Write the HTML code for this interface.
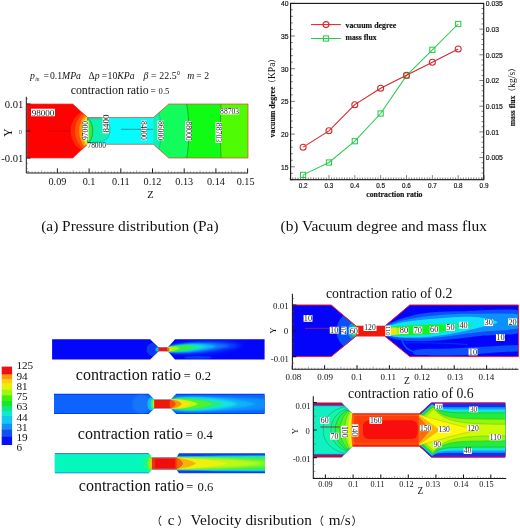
<!DOCTYPE html>
<html><head><meta charset="utf-8"><title>Figure</title>
<style>
html,body{margin:0;padding:0;background:#fff;}
body{width:520px;height:530px;overflow:hidden;}
svg{display:block;}
</style></head><body>
<svg width="520" height="530" viewBox="0 0 520 530">
<defs>
<filter id="b1" x="-20%" y="-20%" width="140%" height="140%"><feGaussianBlur stdDeviation="0.6"/></filter>
<filter id="b2" x="-30%" y="-30%" width="160%" height="160%"><feGaussianBlur stdDeviation="1.2"/></filter>
<filter id="b3" x="-30%" y="-50%" width="160%" height="200%"><feGaussianBlur stdDeviation="2"/></filter>
<filter id="b4" x="-30%" y="-60%" width="160%" height="220%"><feGaussianBlur stdDeviation="3"/></filter>
<filter id="soft" x="-5%" y="-5%" width="110%" height="110%"><feGaussianBlur stdDeviation="0.35"/></filter>
</defs>
<rect width="520" height="530" fill="#fff"/>
<g id="panelA">
<text x="30" y="78.8" font-size="9.7" font-family="Liberation Serif, serif" fill="#111" font-style="italic">p</text>
<text x="35.2" y="80.6" font-size="5.4" font-family="Liberation Serif, serif" font-style="italic" fill="#111">in</text>
<text x="43.8" y="78.8" font-size="9.3" font-family="Liberation Serif, serif" fill="#111" >=</text>
<text x="50" y="78.8" font-size="9.7" font-family="Liberation Serif, serif" fill="#111" >0.1<tspan font-style="italic">MPa</tspan></text>
<text x="88.6" y="78.8" font-size="9.7" font-family="Liberation Serif, serif" fill="#111" >Δ<tspan font-style="italic">p</tspan></text>
<text x="101.8" y="78.8" font-size="9.3" font-family="Liberation Serif, serif" fill="#111" >=</text>
<text x="107.6" y="78.8" font-size="9.7" font-family="Liberation Serif, serif" fill="#111" >10<tspan font-style="italic">KPa</tspan></text>
<text x="143.6" y="78.8" font-size="9.7" font-family="Liberation Serif, serif" fill="#111" font-style="italic">β</text>
<text x="151" y="78.8" font-size="9.3" font-family="Liberation Serif, serif" fill="#111" >=</text>
<text x="159.3" y="78.8" font-size="9.9" font-family="Liberation Serif, serif" fill="#111" >22.5°</text>
<text x="187.3" y="78.8" font-size="9.7" font-family="Liberation Serif, serif" fill="#111" font-style="italic">m</text>
<text x="196.2" y="78.8" font-size="9.3" font-family="Liberation Serif, serif" fill="#111" >=</text>
<text x="204.3" y="78.8" font-size="9.7" font-family="Liberation Serif, serif" fill="#111" >2</text>
<text x="70.7" y="94.3" font-size="11.85" font-family="Liberation Serif, serif" fill="#111">contraction ratio</text>
<text x="150.6" y="94.3" font-size="9.3" font-family="Liberation Serif, serif" fill="#111">=</text>
<text x="158.6" y="94.3" font-size="8.6" font-family="Liberation Serif, serif" fill="#111">0.5</text>
<clipPath id="clipA"><path d="M27,104 L72.8,104 L87.5,117.5 L153.3,117.5 L168.8,104 L248,104 L248,158 L168.8,158 L153.3,144.3 L87.5,144.3 L72.8,158 L27,158 Z"/></clipPath>
<g clip-path="url(#clipA)">
<rect x="27" y="100" width="60" height="62" fill="#fe0202"/>
<path d="M89,109 C64.5,114 64.5,148 89,153 Z" fill="#ff2a04"/>
<path d="M89,110.5 C70.5,116 70.5,146 89,151.5 Z" fill="#ff5606"/>
<path d="M89,112.5 C76,118 76,144 89,149.5 Z" fill="#ff9a08"/>
<path d="M89,114.5 C80.4,120 80.4,142 89,147.5 Z" fill="#f6e818"/>
<rect x="87.5" y="112" width="66" height="38" fill="#06fcfc"/>
<path d="M87.5,118.6 L100,118.6 C108,119.2 110,124 110,130 C110,137 106,141.4 99,142 C94,142.4 90,142.4 88,144.3 L87.5,144.3 Z" fill="#10f0b0" stroke="#1aa86a" stroke-width="0.5"/>
<path d="M87.5,118.5 C94.5,122 94.5,140 87.5,143.5 Z" fill="#34ee34" stroke="#158a2a" stroke-width="0.6"/>
<rect x="153.3" y="100" width="10" height="62" fill="#10f0b0"/>
<path d="M153.3,117.5 L156,116 C160,124 160,138 156,146 L153.3,144.3 Z" fill="#10f0b0"/>
<path d="M158.5,100 L158.5,112 C162,122 162,140 158.5,150 L158.5,162 L190,162 L190,100 Z" fill="#12fc5c"/>
<path d="M186,100 C190,120 190,142 186,162 L225,162 L225,100 Z" fill="#10fc14"/>
<path d="M221.2,100 C220.2,120 220.2,142 221.2,162 L250,162 L250,100 Z" fill="#50fc04"/>
<path d="M186,100 C190,120 190,142 186,162" fill="none" stroke="#0c8c1c" stroke-width="0.7"/>
<path d="M221.2,100 C220.2,120 220.2,142 221.2,162" fill="none" stroke="#2a9010" stroke-width="0.7"/>
<path d="M158.5,112 C162,122 162,140 158.5,150" fill="none" stroke="#10a060" stroke-width="0.5"/>
<path d="M48,131 H70" stroke="#c40000" stroke-width="0.6"/>
<path d="M121,129.3 H153" stroke="#1a6a78" stroke-width="0.7"/>
</g>
<path d="M27,104 L72.8,104 L87.5,117.5 L153.3,117.5 L168.8,104 L248,104 L248,158 L168.8,158 L153.3,144.3 L87.5,144.3 L72.8,158 L27,158 Z" fill="none" stroke="#ef3a20" stroke-width="0.7"/>
<g transform="translate(43,112.5) rotate(0)"><rect x="-12.00" y="-3.75" width="24.00" height="7.50" fill="#fff"/><text x="0" y="3.00" font-size="9.1" text-anchor="middle" font-family="Liberation Serif, serif" fill="#222">98000</text></g>
<g transform="translate(85.6,130.5) rotate(-90)"><rect x="-9.75" y="-2.90" width="19.50" height="5.80" fill="#fff"/><text x="0" y="2.51" font-size="7.6" text-anchor="middle" font-family="Liberation Serif, serif" fill="#222">97000</text></g>
<g transform="translate(105.8,123.6) rotate(-90)"><rect x="-9.75" y="-3.20" width="19.50" height="6.40" fill="#fff"/><text x="0" y="2.97" font-size="9" text-anchor="middle" font-family="Liberation Serif, serif" fill="#222">8400</text></g>
<g transform="translate(96.7,145.9) rotate(0)"><rect x="-9.50" y="-2.60" width="19.00" height="5.20" fill="#fff"/><text x="0" y="2.44" font-size="7.4" text-anchor="middle" font-family="Liberation Serif, serif" fill="#222">78000</text></g>
<g transform="translate(143.9,130.4) rotate(90)"><rect x="-9.80" y="-2.80" width="19.60" height="5.60" fill="#fff"/><text x="0" y="2.51" font-size="7.6" text-anchor="middle" font-family="Liberation Serif, serif" fill="#222">84000</text></g>
<g transform="translate(160.6,130.5) rotate(90)"><rect x="-9.80" y="-3.10" width="19.60" height="6.20" fill="#fff"/><text x="0" y="2.51" font-size="7.6" text-anchor="middle" font-family="Liberation Serif, serif" fill="#222">86000</text></g>
<g transform="translate(188.2,131) rotate(90)"><rect x="-10.00" y="-3.10" width="20.00" height="6.20" fill="#fff"/><text x="0" y="2.57" font-size="7.8" text-anchor="middle" font-family="Liberation Serif, serif" fill="#222">88000</text></g>
<g transform="translate(218.6,132.5) rotate(90)"><rect x="-10.30" y="-3.10" width="20.60" height="6.20" fill="#fff"/><text x="0" y="2.57" font-size="7.8" text-anchor="middle" font-family="Liberation Serif, serif" fill="#222">88703</text></g>
<g transform="translate(229.6,111.4) rotate(0)"><rect x="-9.60" y="-3.00" width="19.20" height="6.00" fill="#fff"/><text x="0" y="2.51" font-size="7.6" text-anchor="middle" font-family="Liberation Serif, serif" fill="#222">88703</text></g>
<path d="M26.3,117.5 h2.6 M26.3,144.5 h2.6 M26.3,171.5 h2.6 M26.3,98.6 h1.6 M26.3,109.4 h1.6 M26.3,114.8 h1.6 M26.3,120.2 h1.6 M26.3,125.6 h1.6 M26.3,136.4 h1.6 M26.3,141.8 h1.6 M26.3,147.2 h1.6 M26.3,152.6 h1.6 M26.3,163.4 h1.6 M26.3,168.8 h1.6 M28.87,173 v-1.7 M32.04,173 v-1.7 M35.21,173 v-1.7 M38.38,173 v-1.7 M41.55,173 v-2.6 M44.72,173 v-1.7 M47.89,173 v-1.7 M51.06,173 v-1.7 M54.23,173 v-1.7 M60.57,173 v-1.7 M63.74,173 v-1.7 M66.91,173 v-1.7 M70.08,173 v-1.7 M73.25,173 v-2.6 M76.42,173 v-1.7 M79.59,173 v-1.7 M82.76,173 v-1.7 M85.93,173 v-1.7 M92.27,173 v-1.7 M95.44,173 v-1.7 M98.61,173 v-1.7 M101.78,173 v-1.7 M104.95,173 v-2.6 M108.12,173 v-1.7 M111.29,173 v-1.7 M114.46,173 v-1.7 M117.63,173 v-1.7 M123.97,173 v-1.7 M127.14,173 v-1.7 M130.31,173 v-1.7 M133.48,173 v-1.7 M136.65,173 v-2.6 M139.82,173 v-1.7 M142.99,173 v-1.7 M146.16,173 v-1.7 M149.33,173 v-1.7 M155.67,173 v-1.7 M158.84,173 v-1.7 M162.01,173 v-1.7 M165.18,173 v-1.7 M168.35,173 v-2.6 M171.52,173 v-1.7 M174.69,173 v-1.7 M177.86,173 v-1.7 M181.03,173 v-1.7 M187.37,173 v-1.7 M190.54,173 v-1.7 M193.71,173 v-1.7 M196.88,173 v-1.7 M200.05,173 v-2.6 M203.22,173 v-1.7 M206.39,173 v-1.7 M209.56,173 v-1.7 M212.73,173 v-1.7 M219.07,173 v-1.7 M222.24,173 v-1.7 M225.41,173 v-1.7 M228.58,173 v-1.7 M231.75,173 v-2.6 M234.92,173 v-1.7 M238.09,173 v-1.7 M241.26,173 v-1.7 M244.43,173 v-1.7" fill="none" stroke="#555" stroke-width="0.5"/>
<path d="M26.3,96.8 V173 H248 M26.3,104 h4.2 M26.3,131 h4.2 M26.3,158 h4.2 M57.40,173 v-4.6 M89.10,173 v-4.6 M120.80,173 v-4.6 M152.50,173 v-4.6 M184.20,173 v-4.6 M215.90,173 v-4.6 M247.60,173 v-4.6" fill="none" stroke="#1c1c24" stroke-width="1"/>
<text x="23.3" y="108.1" font-size="10.6" text-anchor="end" font-family="Liberation Serif, serif" fill="#111" >0.01</text>
<text x="23.3" y="162.1" font-size="10.6" text-anchor="end" font-family="Liberation Serif, serif" fill="#111" >-0.01</text>
<text x="22" y="133.8" font-size="6.6" text-anchor="end" font-family="Liberation Serif, serif" fill="#356" >0</text>
<text transform="translate(11.8,132.5) rotate(-90)" font-size="11.5" text-anchor="middle" font-family="Liberation Serif, serif" fill="#111">Y</text>
<text x="57.4" y="185.2" font-size="10.2" text-anchor="middle" font-family="Liberation Serif, serif" fill="#111" >0.09</text>
<text x="89.1" y="185.2" font-size="10.2" text-anchor="middle" font-family="Liberation Serif, serif" fill="#111" >0.1</text>
<text x="120.8" y="185.2" font-size="10.2" text-anchor="middle" font-family="Liberation Serif, serif" fill="#111" >0.11</text>
<text x="152.5" y="185.2" font-size="10.2" text-anchor="middle" font-family="Liberation Serif, serif" fill="#111" >0.12</text>
<text x="184.2" y="185.2" font-size="10.2" text-anchor="middle" font-family="Liberation Serif, serif" fill="#111" >0.13</text>
<text x="215.9" y="185.2" font-size="10.2" text-anchor="middle" font-family="Liberation Serif, serif" fill="#111" >0.14</text>
<text x="245.6" y="185.2" font-size="10.2" text-anchor="middle" font-family="Liberation Serif, serif" fill="#111" >0.15</text>
<text x="150.5" y="197.8" font-size="10.5" text-anchor="middle" font-family="Liberation Serif, serif" fill="#111" >Z</text>
<text x="41.2" y="231.2" font-size="15.4" text-anchor="start" font-family="Liberation Serif, serif" fill="#111" >(a) Pressure distribution (Pa)</text>
</g>
<g id="panelB">
<rect x="290.6" y="3.4" width="193.10" height="176.30" fill="none" stroke="#111" stroke-width="1.1"/>
<path d="M290.6,179.88 h2.2 M290.6,173.34 h2.2 M290.6,166.80 h4.3 M290.6,160.26 h2.2 M290.6,153.72 h2.2 M290.6,147.18 h2.2 M290.6,140.64 h2.2 M290.6,134.10 h4.3 M290.6,127.56 h2.2 M290.6,121.02 h2.2 M290.6,114.48 h2.2 M290.6,107.94 h2.2 M290.6,101.40 h4.3 M290.6,94.86 h2.2 M290.6,88.32 h2.2 M290.6,81.78 h2.2 M290.6,75.24 h2.2 M290.6,68.70 h4.3 M290.6,62.16 h2.2 M290.6,55.62 h2.2 M290.6,49.08 h2.2 M290.6,42.54 h2.2 M290.6,36.00 h4.3 M290.6,29.46 h2.2 M290.6,22.92 h2.2 M290.6,16.38 h2.2 M290.6,9.84 h2.2 M290.6,3.30 h4.3 M483.7,3.40 h-4.3 M483.7,8.54 h-2.2 M483.7,13.68 h-2.2 M483.7,18.82 h-2.2 M483.7,23.96 h-2.2 M483.7,29.10 h-4.3 M483.7,34.24 h-2.2 M483.7,39.38 h-2.2 M483.7,44.52 h-2.2 M483.7,49.66 h-2.2 M483.7,54.80 h-4.3 M483.7,59.94 h-2.2 M483.7,65.08 h-2.2 M483.7,70.22 h-2.2 M483.7,75.36 h-2.2 M483.7,80.50 h-4.3 M483.7,85.64 h-2.2 M483.7,90.78 h-2.2 M483.7,95.92 h-2.2 M483.7,101.06 h-2.2 M483.7,106.20 h-4.3 M483.7,111.34 h-2.2 M483.7,116.48 h-2.2 M483.7,121.62 h-2.2 M483.7,126.76 h-2.2 M483.7,131.90 h-4.3 M483.7,137.04 h-2.2 M483.7,142.18 h-2.2 M483.7,147.32 h-2.2 M483.7,152.46 h-2.2 M483.7,157.60 h-4.3 M483.7,162.74 h-2.2 M483.7,167.88 h-2.2 M483.7,173.02 h-2.2 M483.7,178.16 h-2.2 M290.18,179.7 v-2.2 M292.76,179.7 v-2.2 M295.35,179.7 v-2.2 M297.93,179.7 v-2.2 M300.52,179.7 v-2.2 M303.10,179.7 v-4.5 M305.69,179.7 v-2.2 M308.27,179.7 v-2.2 M310.86,179.7 v-2.2 M313.44,179.7 v-2.2 M316.03,179.7 v-2.2 M318.61,179.7 v-2.2 M321.20,179.7 v-2.2 M323.78,179.7 v-2.2 M326.37,179.7 v-2.2 M328.95,179.7 v-4.5 M331.54,179.7 v-2.2 M334.12,179.7 v-2.2 M336.71,179.7 v-2.2 M339.29,179.7 v-2.2 M341.88,179.7 v-2.2 M344.46,179.7 v-2.2 M347.05,179.7 v-2.2 M349.63,179.7 v-2.2 M352.22,179.7 v-2.2 M354.80,179.7 v-4.5 M357.38,179.7 v-2.2 M359.97,179.7 v-2.2 M362.56,179.7 v-2.2 M365.14,179.7 v-2.2 M367.73,179.7 v-2.2 M370.31,179.7 v-2.2 M372.89,179.7 v-2.2 M375.48,179.7 v-2.2 M378.06,179.7 v-2.2 M380.65,179.7 v-4.5 M383.24,179.7 v-2.2 M385.82,179.7 v-2.2 M388.41,179.7 v-2.2 M390.99,179.7 v-2.2 M393.58,179.7 v-2.2 M396.16,179.7 v-2.2 M398.75,179.7 v-2.2 M401.33,179.7 v-2.2 M403.92,179.7 v-2.2 M406.50,179.7 v-4.5 M409.09,179.7 v-2.2 M411.67,179.7 v-2.2 M414.25,179.7 v-2.2 M416.84,179.7 v-2.2 M419.43,179.7 v-2.2 M422.01,179.7 v-2.2 M424.60,179.7 v-2.2 M427.18,179.7 v-2.2 M429.76,179.7 v-2.2 M432.35,179.7 v-4.5 M434.94,179.7 v-2.2 M437.52,179.7 v-2.2 M440.11,179.7 v-2.2 M442.69,179.7 v-2.2 M445.28,179.7 v-2.2 M447.86,179.7 v-2.2 M450.45,179.7 v-2.2 M453.03,179.7 v-2.2 M455.62,179.7 v-2.2 M458.20,179.7 v-4.5 M460.79,179.7 v-2.2 M463.37,179.7 v-2.2 M465.95,179.7 v-2.2 M468.54,179.7 v-2.2 M471.12,179.7 v-2.2 M473.71,179.7 v-2.2 M476.30,179.7 v-2.2 M478.88,179.7 v-2.2 M481.47,179.7 v-2.2 M484.05,179.7 v-4.5" stroke="#222" stroke-width="0.6" fill="none"/>
<text x="288.4" y="6.10" font-size="7.5" text-anchor="end" font-family="Liberation Sans, sans-serif" fill="#111" stroke="#111" stroke-width="0.18" textLength="7.51" lengthAdjust="spacingAndGlyphs">40</text>
<text x="288.4" y="38.80" font-size="7.5" text-anchor="end" font-family="Liberation Sans, sans-serif" fill="#111" stroke="#111" stroke-width="0.18" textLength="7.51" lengthAdjust="spacingAndGlyphs">35</text>
<text x="288.4" y="71.50" font-size="7.5" text-anchor="end" font-family="Liberation Sans, sans-serif" fill="#111" stroke="#111" stroke-width="0.18" textLength="7.51" lengthAdjust="spacingAndGlyphs">30</text>
<text x="288.4" y="104.20" font-size="7.5" text-anchor="end" font-family="Liberation Sans, sans-serif" fill="#111" stroke="#111" stroke-width="0.18" textLength="7.51" lengthAdjust="spacingAndGlyphs">25</text>
<text x="288.4" y="136.90" font-size="7.5" text-anchor="end" font-family="Liberation Sans, sans-serif" fill="#111" stroke="#111" stroke-width="0.18" textLength="7.51" lengthAdjust="spacingAndGlyphs">20</text>
<text x="288.4" y="169.60" font-size="7.5" text-anchor="end" font-family="Liberation Sans, sans-serif" fill="#111" stroke="#111" stroke-width="0.18" textLength="7.51" lengthAdjust="spacingAndGlyphs">15</text>
<text x="485.8" y="6.20" font-size="7.3" text-anchor="start" font-family="Liberation Sans, sans-serif" fill="#111" stroke="#111" stroke-width="0.18" textLength="16.99" lengthAdjust="spacingAndGlyphs">0.035</text>
<text x="485.8" y="31.90" font-size="7.3" text-anchor="start" font-family="Liberation Sans, sans-serif" fill="#111" stroke="#111" stroke-width="0.18" textLength="13.21" lengthAdjust="spacingAndGlyphs">0.03</text>
<text x="485.8" y="57.60" font-size="7.3" text-anchor="start" font-family="Liberation Sans, sans-serif" fill="#111" stroke="#111" stroke-width="0.18" textLength="16.99" lengthAdjust="spacingAndGlyphs">0.025</text>
<text x="485.8" y="83.30" font-size="7.3" text-anchor="start" font-family="Liberation Sans, sans-serif" fill="#111" stroke="#111" stroke-width="0.18" textLength="13.21" lengthAdjust="spacingAndGlyphs">0.02</text>
<text x="485.8" y="109.00" font-size="7.3" text-anchor="start" font-family="Liberation Sans, sans-serif" fill="#111" stroke="#111" stroke-width="0.18" textLength="16.99" lengthAdjust="spacingAndGlyphs">0.015</text>
<text x="485.8" y="134.70" font-size="7.3" text-anchor="start" font-family="Liberation Sans, sans-serif" fill="#111" stroke="#111" stroke-width="0.18" textLength="13.21" lengthAdjust="spacingAndGlyphs">0.01</text>
<text x="485.8" y="160.40" font-size="7.3" text-anchor="start" font-family="Liberation Sans, sans-serif" fill="#111" stroke="#111" stroke-width="0.18" textLength="16.99" lengthAdjust="spacingAndGlyphs">0.005</text>
<text x="303.10" y="188.40" font-size="7.5" text-anchor="middle" font-family="Liberation Sans, sans-serif" fill="#111" stroke="#111" stroke-width="0.18" textLength="8.86" lengthAdjust="spacingAndGlyphs">0.2</text>
<text x="328.95" y="188.40" font-size="7.5" text-anchor="middle" font-family="Liberation Sans, sans-serif" fill="#111" stroke="#111" stroke-width="0.18" textLength="8.86" lengthAdjust="spacingAndGlyphs">0.3</text>
<text x="354.80" y="188.40" font-size="7.5" text-anchor="middle" font-family="Liberation Sans, sans-serif" fill="#111" stroke="#111" stroke-width="0.18" textLength="8.86" lengthAdjust="spacingAndGlyphs">0.4</text>
<text x="380.65" y="188.40" font-size="7.5" text-anchor="middle" font-family="Liberation Sans, sans-serif" fill="#111" stroke="#111" stroke-width="0.18" textLength="8.86" lengthAdjust="spacingAndGlyphs">0.5</text>
<text x="406.50" y="188.40" font-size="7.5" text-anchor="middle" font-family="Liberation Sans, sans-serif" fill="#111" stroke="#111" stroke-width="0.18" textLength="8.86" lengthAdjust="spacingAndGlyphs">0.6</text>
<text x="432.35" y="188.40" font-size="7.5" text-anchor="middle" font-family="Liberation Sans, sans-serif" fill="#111" stroke="#111" stroke-width="0.18" textLength="8.86" lengthAdjust="spacingAndGlyphs">0.7</text>
<text x="458.20" y="188.40" font-size="7.5" text-anchor="middle" font-family="Liberation Sans, sans-serif" fill="#111" stroke="#111" stroke-width="0.18" textLength="8.86" lengthAdjust="spacingAndGlyphs">0.8</text>
<text x="484.05" y="188.40" font-size="7.5" text-anchor="middle" font-family="Liberation Sans, sans-serif" fill="#111" stroke="#111" stroke-width="0.18" textLength="8.86" lengthAdjust="spacingAndGlyphs">0.9</text>
<text x="366.2" y="197" font-size="8.2" font-family="Liberation Serif, serif" font-weight="bold" stroke="#111" stroke-width="0.15" fill="#111" textLength="56.3" lengthAdjust="spacingAndGlyphs">contraction ratio</text>
<g transform="translate(274.9,137.4) rotate(-90)"><text x="0" y="0" font-size="8.8" font-family="Liberation Serif, serif" font-weight="bold" stroke="#111" stroke-width="0.15" fill="#111" textLength="51" lengthAdjust="spacingAndGlyphs">vacuum degree</text><text y="0" font-size="9.5" font-family="Liberation Serif, Noto Sans CJK SC, serif" fill="#111"><tspan x="50" font-size="8">（</tspan><tspan x="58.4">KPa</tspan><tspan x="75" font-size="8">）</tspan></text></g>
<g transform="translate(515.1,126.2) rotate(-90)"><text x="0" y="0" font-size="8.8" font-family="Liberation Serif, serif" font-weight="bold" stroke="#111" stroke-width="0.15" fill="#111" textLength="30.5" lengthAdjust="spacingAndGlyphs">mass flux</text><text y="0" font-size="9.5" font-family="Liberation Serif, Noto Sans CJK SC, serif" fill="#111"><tspan x="30.2" font-size="8">（</tspan><tspan x="38.5">kg/s</tspan><tspan x="54.5" font-size="8">）</tspan></text></g>
<polyline points="303.10,174.90 328.95,162.50 354.80,141.20 380.65,113.50 406.50,75.70 432.35,49.80 458.20,24.00" fill="none" stroke="#28cc4c" stroke-width="1.05"/>
<polyline points="303.10,147.18 328.95,130.83 354.80,104.67 380.65,88.32 406.50,75.24 432.35,62.16 458.20,49.08" fill="none" stroke="#d8242a" stroke-width="1.05"/>
<rect x="300.50" y="172.30" width="5.2" height="5.2" fill="none" stroke="#28cc4c" stroke-width="1.05"/>
<rect x="326.35" y="159.90" width="5.2" height="5.2" fill="none" stroke="#28cc4c" stroke-width="1.05"/>
<rect x="352.20" y="138.60" width="5.2" height="5.2" fill="none" stroke="#28cc4c" stroke-width="1.05"/>
<rect x="378.05" y="110.90" width="5.2" height="5.2" fill="none" stroke="#28cc4c" stroke-width="1.05"/>
<rect x="403.90" y="73.10" width="5.2" height="5.2" fill="none" stroke="#28cc4c" stroke-width="1.05"/>
<rect x="429.75" y="47.20" width="5.2" height="5.2" fill="none" stroke="#28cc4c" stroke-width="1.05"/>
<rect x="455.60" y="21.40" width="5.2" height="5.2" fill="none" stroke="#28cc4c" stroke-width="1.05"/>
<circle cx="303.10" cy="147.18" r="3" fill="none" stroke="#d8242a" stroke-width="1.05"/>
<circle cx="328.95" cy="130.83" r="3" fill="none" stroke="#d8242a" stroke-width="1.05"/>
<circle cx="354.80" cy="104.67" r="3" fill="none" stroke="#d8242a" stroke-width="1.05"/>
<circle cx="380.65" cy="88.32" r="3" fill="none" stroke="#d8242a" stroke-width="1.05"/>
<circle cx="406.50" cy="75.24" r="3" fill="none" stroke="#d8242a" stroke-width="1.05"/>
<circle cx="432.35" cy="62.16" r="3" fill="none" stroke="#d8242a" stroke-width="1.05"/>
<circle cx="458.20" cy="49.08" r="3" fill="none" stroke="#d8242a" stroke-width="1.05"/>
<path d="M311,24.6 H340.8" stroke="#d8242a" stroke-width="1.05"/><circle cx="326" cy="24.6" r="3" fill="none" stroke="#d8242a" stroke-width="1.05"/>
<path d="M311,38.5 H340.8" stroke="#28cc4c" stroke-width="1.05"/><rect x="323.4" y="35.9" width="5.2" height="5.2" fill="none" stroke="#28cc4c" stroke-width="1.05"/>
<text x="345.5" y="27.9" font-size="9" font-family="Liberation Serif, serif" font-weight="bold" stroke="#111" stroke-width="0.15" fill="#111" textLength="50.8" lengthAdjust="spacingAndGlyphs">vacuum degree</text>
<text x="345.5" y="39.8" font-size="9" font-family="Liberation Serif, serif" font-weight="bold" stroke="#111" stroke-width="0.15" fill="#111" textLength="31.2" lengthAdjust="spacingAndGlyphs">mass flux</text>
<text x="280.5" y="230.8" font-size="15.42" text-anchor="start" font-family="Liberation Serif, serif" fill="#111" >(b) Vacuum degree and mass flux</text>
</g>
<g id="panelC">
<rect x="1.7" y="366.60" width="10.4" height="8.20" fill="#f01010"/>
<rect x="1.7" y="374.50" width="10.4" height="5.20" fill="#ff9808"/>
<rect x="1.7" y="379.40" width="10.4" height="4.50" fill="#ffd008"/>
<rect x="1.7" y="383.60" width="10.4" height="6.10" fill="#e8f008"/>
<rect x="1.7" y="389.40" width="10.4" height="6.10" fill="#a0f808"/>
<rect x="1.7" y="395.20" width="10.4" height="6.10" fill="#40f008"/>
<rect x="1.7" y="401.00" width="10.4" height="5.30" fill="#10e828"/>
<rect x="1.7" y="406.00" width="10.4" height="5.30" fill="#10e880"/>
<rect x="1.7" y="411.00" width="10.4" height="5.30" fill="#10e8d0"/>
<rect x="1.7" y="416.00" width="10.4" height="7.80" fill="#10c8f0"/>
<rect x="1.7" y="423.50" width="10.4" height="6.10" fill="#1090f8"/>
<rect x="1.7" y="429.30" width="10.4" height="7.80" fill="#1050f4"/>
<rect x="1.7" y="436.80" width="10.4" height="8.20" fill="#0610f4"/>
<text x="16.4" y="369.3" font-size="11.2" text-anchor="start" font-family="Liberation Serif, serif" fill="#111" >125</text>
<text x="16.4" y="379.57" font-size="11.2" text-anchor="start" font-family="Liberation Serif, serif" fill="#111" >94</text>
<text x="16.4" y="389.84000000000003" font-size="11.2" text-anchor="start" font-family="Liberation Serif, serif" fill="#111" >81</text>
<text x="16.4" y="400.11" font-size="11.2" text-anchor="start" font-family="Liberation Serif, serif" fill="#111" >75</text>
<text x="16.4" y="410.38" font-size="11.2" text-anchor="start" font-family="Liberation Serif, serif" fill="#111" >63</text>
<text x="16.4" y="420.65" font-size="11.2" text-anchor="start" font-family="Liberation Serif, serif" fill="#111" >44</text>
<text x="16.4" y="430.92" font-size="11.2" text-anchor="start" font-family="Liberation Serif, serif" fill="#111" >31</text>
<text x="16.4" y="441.19" font-size="11.2" text-anchor="start" font-family="Liberation Serif, serif" fill="#111" >19</text>
<text x="16.4" y="451.46000000000004" font-size="11.2" text-anchor="start" font-family="Liberation Serif, serif" fill="#111" >6</text>
<clipPath id="cs1"><path d="M52.1,339.3 H150.2 L158.4,347.5 H167.8 L175,339.3 H264.6 V359.4 H175 L167.8,351.2 H158.4 L150.2,359.4 H52.1 Z"/></clipPath><g clip-path="url(#cs1)">
<rect x="50" y="338" width="216" height="24" fill="#0206fa"/>
<circle cx="153" cy="349.4" r="6.5" fill="#0a38fa" filter="url(#b1)"/>
<circle cx="157.6" cy="349.4" r="2.2" fill="#14b8e8" filter="url(#b1)"/>
<path d="M167,347.2 C193.6,339.9 224.0,339.2 243,345.4 C224.0,351.6 193.6,356.5 167,351.59999999999997 Z" fill="#0848fa" filter="url(#b3)"/>
<path d="M167,347.2 C189.1,342.1 214.2,341.1 230,345.8 C214.2,350.5 189.1,354.6 167,351.59999999999997 Z" fill="#0c78fc" filter="url(#b2)"/>
<path d="M167,347.4 C184.5,343.2 204.5,342.3 217,346.2 C204.5,350.1 184.5,353.6 167,351.4 Z" fill="#10c0f8" filter="url(#b2)"/>
<path d="M167,347.4 C180.7,344.1 196.2,343.3 206,346.6 C196.2,349.9 180.7,353.0 167,351.4 Z" fill="#18ecb0" filter="url(#b2)"/>
<path d="M167,347.4 C177.2,344.9 188.8,344.2 196,347 C188.8,349.8 177.2,352.4 167,351.4 Z" fill="#30f040" filter="url(#b1)"/>
<path d="M167,347.4 C171.6,346.2 176.8,346.1 180,348.2 C176.8,350.3 171.6,351.9 167,351.4 Z" fill="#a0f418" filter="url(#b1)"/>
<path d="M167,347.59999999999997 C168.9,346.9 171.1,347.2 172.5,349 C171.1,350.8 168.9,351.6 167,351.2 Z" fill="#f8e010" filter="url(#b1)"/>
<ellipse cx="198" cy="357.4" rx="14" ry="1.4" fill="#0838fa" filter="url(#b1)"/>
<rect x="158.4" y="347.5" width="9.6" height="3.7" fill="#f01808"/>
<rect x="167" y="347.9" width="2.4" height="3" fill="#f86008" filter="url(#b1)"/>
</g>
<clipPath id="cs2"><path d="M54,393.8 H148.6 L154.2,399.8 H170.8 L176.2,393.8 H264.6 V414.1 H176.2 L170.8,408.2 H154.2 L148.6,414.1 H54 Z"/></clipPath><g clip-path="url(#cs2)">
<rect x="52" y="392" width="214" height="24" fill="#0838f4"/>
<rect x="48" y="394.8" width="220" height="18.3" fill="#0a64fe" filter="url(#b1)"/>
<circle cx="141.5" cy="404" r="9.5" fill="#1274fa" filter="url(#b2)"/>
<ellipse cx="151" cy="404" rx="3.6" ry="6.4" fill="#14b8f0" filter="url(#b1)"/>
<ellipse cx="152.8" cy="404" rx="2.4" ry="5.4" fill="#20e8a0" filter="url(#b1)"/>
<ellipse cx="154" cy="404" rx="1.6" ry="4.6" fill="#a0f020" filter="url(#b1)"/>
<rect x="176" y="398" width="92" height="12" fill="#0c80fc" filter="url(#b2)"/>
<path d="M170,400 C188.0,394.1 260.0,396.6 290,404 C260.0,411.4 188.0,413.9 170,408 Z" fill="#0c90fc" filter="url(#b2)"/>
<path d="M170,400 C182.9,394.6 234.5,397.0 256,404 C234.5,411.0 182.9,413.4 170,408 Z" fill="#10b4f8" filter="url(#b2)"/>
<path d="M170,400 C180.2,395.4 221.0,397.6 238,404 C221.0,410.4 180.2,412.6 170,408 Z" fill="#14e4e4" filter="url(#b2)"/>
<path d="M170,400 C178.1,396.5 210.5,398.3 224,404 C210.5,409.7 178.1,411.5 170,408 Z" fill="#20ec80" filter="url(#b2)"/>
<path d="M170,400 C176.4,397.2 202.2,398.9 213,404 C202.2,409.1 176.4,410.8 170,408 Z" fill="#50f428" filter="url(#b1)"/>
<path d="M170,400 C174.2,398.3 191.0,399.7 198,404 C191.0,408.3 174.2,409.7 170,408 Z" fill="#c0f418" filter="url(#b1)"/>
<path d="M170,400 C173.0,398.8 185.0,400.1 190,404 C185.0,407.9 173.0,409.2 170,408 Z" fill="#f4e810" filter="url(#b1)"/>
<path d="M170,400.2 C172.4,399.1 179.0,400.3 182,404 C179.0,407.7 172.4,408.9 170,407.8 Z" fill="#f89808" filter="url(#b1)"/>
<path d="M168,400.2 C169.6,399.1 174.0,400.3 176,404 C174.0,407.7 169.6,408.9 168,407.8 Z" fill="#f84c08" filter="url(#b1)"/>
<rect x="154.2" y="399.8" width="15.5" height="8.4" fill="#f01808"/>
<path d="M154,399.9 H171 M154,408.1 H171" fill="none" stroke="#d02010" stroke-width="0.8"/>
</g>
<clipPath id="cs3"><path d="M54.9,453.3 H148.6 L151.6,457.5 H176.4 L179,453.3 H265 V473.3 H179 L176.4,469.6 H151.6 L148.6,473.3 H54.9 Z"/></clipPath><g clip-path="url(#cs3)">
<rect x="52" y="452" width="216" height="23" fill="#0a40ec"/>
<rect x="50" y="453.9" width="101" height="18.8" fill="#10d8e0"/>
<rect x="50" y="454.4" width="101" height="17.8" fill="#04f8bc"/>
<ellipse cx="150" cy="463.4" rx="7" ry="8" fill="#20f880" filter="url(#b2)"/>
<ellipse cx="151.4" cy="463.4" rx="3.6" ry="7" fill="#80f020" filter="url(#b1)"/>
<ellipse cx="152.4" cy="463.4" rx="2" ry="6" fill="#f8e010" filter="url(#b1)"/>
<path d="M176,456.6 L220,455.6 L268,455.2 V471.6 L220,471.2 L176,470.2 Z" fill="#10a8f8" filter="url(#b1)"/>
<path d="M176,457.4 L220,456.4 L268,456 V470.8 L220,470.4 L176,469.4 Z" fill="#14e4d0" filter="url(#b1)"/>
<path d="M176,458.2 L220,457.2 L268,456.8 V470 L220,469.6 L176,468.6 Z" fill="#30f058" filter="url(#b1)"/>
<path d="M176,457.79999999999995 C194.6,457.4 269.0,458.9 300,463.4 C269.0,467.9 194.6,469.4 176,469.0 Z" fill="#80f828" filter="url(#b2)"/>
<path d="M176,457.79999999999995 C188.9,457.7 240.5,459.1 262,463.4 C240.5,467.7 188.9,469.1 176,469.0 Z" fill="#c0f818" filter="url(#b2)"/>
<path d="M176,457.79999999999995 C183.8,458.2 215.0,459.5 228,463.4 C215.0,467.3 183.8,468.6 176,469.0 Z" fill="#f0f010" filter="url(#b1)"/>
<path d="M176,457.79999999999995 C179.0,458.2 191.0,459.5 196,463.4 C191.0,467.3 179.0,468.6 176,469.0 Z" fill="#f8b008" filter="url(#b1)"/>
<path d="M176,458.0 C177.1,457.7 181.2,459.1 183,463.4 C181.2,467.7 177.1,469.1 176,468.79999999999995 Z" fill="#f86008" filter="url(#b1)"/>
<rect x="151.8" y="457.5" width="24.8" height="12.1" fill="#f03008"/>
<rect x="155" y="459" width="20" height="9" rx="2" fill="#f00808" filter="url(#b1)"/>
</g>
<text x="75.8" y="380.3" font-size="16" text-anchor="start" font-family="Liberation Serif, serif" fill="#111" >contraction ratio</text>
<text x="183.8" y="380.3" font-size="12.4" text-anchor="start" font-family="Liberation Serif, serif" fill="#111" >=</text>
<text x="195.2" y="380.3" font-size="12.6" text-anchor="start" font-family="Liberation Serif, serif" fill="#111" >0.2</text>
<text x="77.8" y="438.8" font-size="16" text-anchor="start" font-family="Liberation Serif, serif" fill="#111" >contraction ratio</text>
<text x="185.4" y="438.8" font-size="12.4" text-anchor="start" font-family="Liberation Serif, serif" fill="#111" >=</text>
<text x="197" y="438.8" font-size="12.6" text-anchor="start" font-family="Liberation Serif, serif" fill="#111" >0.4</text>
<text x="78.8" y="490.8" font-size="16" text-anchor="start" font-family="Liberation Serif, serif" fill="#111" >contraction ratio</text>
<text x="186.2" y="490.8" font-size="12.4" text-anchor="start" font-family="Liberation Serif, serif" fill="#111" >=</text>
<text x="197.6" y="490.8" font-size="12.6" text-anchor="start" font-family="Liberation Serif, serif" fill="#111" >0.6</text>
</g>
<g id="panelC2">
<text x="325.9" y="298.3" font-size="13.8" text-anchor="start" font-family="Liberation Serif, serif" fill="#111" >contraction ratio of 0.2</text>
<clipPath id="cc1"><path d="M292.6,305 H331.2 L356.2,326.2 H384.6 L409.8,305 H518.4 V356.6 H409.8 L384.6,336 H356.2 L331.2,356.6 H292.6 Z"/></clipPath><g clip-path="url(#cc1)">
<rect x="290" y="303" width="230" height="56" fill="#0404fa"/>
<circle cx="357" cy="331" r="20.5" fill="#0850fc"/>
<circle cx="357" cy="331" r="9.5" fill="#1098d8"/>
<circle cx="357" cy="331" r="6.5" fill="#18c890"/>
<circle cx="357.5" cy="331" r="4" fill="#58d830"/>
<path d="M413,352.4 C413,349.4 420,348.6 440,348.8 C470,347.6 500,345.4 520,345 L520,351.4 C500,351.6 480,354.6 462,355.2 C440,355.6 425,355.4 418,355 C414,354.6 413,353.6 413,352.4 Z" fill="#0850fc" filter="url(#b1)"/>
<path d="M402,340 C403.5,346 408,350.5 415,352" fill="none" stroke="#0850fc" stroke-width="1.6" filter="url(#b1)"/>
<path d="M405,343 C425,342 450,343.4 468,344.6" fill="none" stroke="#0628fa" stroke-width="1.2" filter="url(#b1)"/>
<path d="M384,326 C385.8,325.17 390.7,322.63 395,321 C399.3,319.37 404.2,317.60 410,316.2 C415.8,314.80 421.7,313.42 430,312.6 C438.3,311.78 444.7,311.57 460,311.3 C475.3,311.03 511.7,307.58 522,311 C532.3,314.42 529.0,327.63 522,331.8 C515.0,335.97 493.7,334.57 480,336 C466.3,337.43 451.7,339.57 440,340.4 C428.3,341.23 417.5,341.23 410,341 C402.5,340.77 399.3,339.83 395,339 C390.7,338.17 385.8,336.50 384,336 Z" fill="#0850fc" filter="url(#b1)"/>
<path d="M385,326.5 C387.5,325.58 394.2,322.55 400,321 C405.8,319.45 413.3,318.20 420,317.2 C426.7,316.20 431.7,315.57 440,315 C448.3,314.43 456.3,313.83 470,313.8 C483.7,313.77 513.3,312.53 522,314.8 C530.7,317.07 529.0,324.53 522,327.4 C515.0,330.27 493.7,330.37 480,332 C466.3,333.63 450.0,336.17 440,337.2 C430.0,338.23 426.7,338.10 420,338.2 C413.3,338.30 405.8,338.25 400,337.8 C394.2,337.35 387.5,335.88 385,335.5 Z" fill="#0890fe" filter="url(#b1)"/>
<path d="M386,327 C388.3,326.30 394.3,323.97 400,322.8 C405.7,321.63 413.3,320.77 420,320 C426.7,319.23 432.5,318.73 440,318.2 C447.5,317.67 457.5,316.80 465,316.8 C472.5,316.80 479.6,317.30 485,318.2 C490.4,319.10 497.5,320.90 497.5,322.2 C497.5,323.50 490.4,324.53 485,326 C479.6,327.47 472.5,329.40 465,331 C457.5,332.60 447.5,334.53 440,335.6 C432.5,336.67 426.7,337.13 420,337.4 C413.3,337.67 405.7,337.60 400,337.2 C394.3,336.80 388.3,335.37 386,335 Z" fill="#0ce4f8" filter="url(#b1)"/>
<path d="M387,327 C390.0,326.73 398.7,325.83 405,325.4 C411.3,324.97 418.3,324.80 425,324.4 C431.7,324.00 438.8,323.30 445,323 C451.2,322.70 457.2,322.33 462,322.6 C466.8,322.87 474.0,323.57 474,324.6 C474.0,325.63 466.8,327.47 462,328.8 C457.2,330.13 451.2,331.60 445,332.6 C438.8,333.60 431.7,334.27 425,334.8 C418.3,335.33 411.3,335.77 405,335.8 C398.7,335.83 390.0,335.13 387,335 Z" fill="#10f0a0" filter="url(#b1)"/>
<path d="M388,327.2 C390.8,327.00 398.8,326.37 405,326 C411.2,325.63 419.2,325.18 425,325 C430.8,324.82 436.0,324.50 440,324.9 C444.0,325.30 449.0,326.18 449,327.4 C449.0,328.62 444.0,331.07 440,332.2 C436.0,333.33 430.8,333.70 425,334.2 C419.2,334.70 411.2,335.07 405,335.2 C398.8,335.33 390.8,335.03 388,335 Z" fill="#14f020" filter="url(#b1)"/>
<path d="M388,327.6 C389.3,327.57 393.7,327.17 396,327.4 C398.3,327.63 400.5,328.40 402,329 C403.5,329.60 405.0,330.27 405,331 C405.0,331.73 403.5,332.73 402,333.4 C400.5,334.07 398.3,334.73 396,335 C393.7,335.27 389.3,335.00 388,335 Z" fill="#b0f018" filter="url(#b1)"/>
<circle cx="393.4" cy="331.4" r="3.4" fill="#f8e010" filter="url(#b1)"/>
<rect x="384" y="327" width="4.5" height="8.6" fill="#f89010" filter="url(#b1)"/>
<rect x="356" y="325" width="29.5" height="12" fill="#f01808"/>
<path d="M305,328.3 H329.6" stroke="#e01848" stroke-width="0.7"/>
</g>
<path d="M292.6,305 H331.2 L356.2,326.2 H384.6 L409.8,305 H518.4 V356.6 H409.8 L384.6,336 H356.2 L331.2,356.6 H292.6 Z" fill="none" stroke="#f0182c" stroke-width="1"/>
<g transform="translate(308,318.4) rotate(0)"><rect x="-4.45" y="-3.40" width="8.90" height="6.80" fill="#fff"/><text x="0" y="2.74" font-size="8.3" text-anchor="middle" font-family="Liberation Serif, serif" fill="#222">10</text></g>
<g transform="translate(334.2,330.2) rotate(0)"><rect x="-4.45" y="-3.40" width="8.90" height="6.80" fill="#fff"/><text x="0" y="2.74" font-size="8.3" text-anchor="middle" font-family="Liberation Serif, serif" fill="#222">10</text></g>
<g transform="translate(343.9,330.6) rotate(-90)"><rect x="-3.90" y="-2.70" width="7.80" height="5.40" fill="#fff"/><text x="0" y="2.38" font-size="7.2" text-anchor="middle" font-family="Liberation Serif, serif" fill="#222">20</text></g>
<g transform="translate(353.8,330.8) rotate(0)"><rect x="-4.45" y="-3.40" width="8.90" height="6.80" fill="#fff"/><text x="0" y="2.74" font-size="8.3" text-anchor="middle" font-family="Liberation Serif, serif" fill="#222">60</text></g>
<g transform="translate(370,327.6) rotate(0)"><rect x="-6.50" y="-3.40" width="13.00" height="6.80" fill="#fff"/><text x="0" y="2.51" font-size="7.6" text-anchor="middle" font-family="Liberation Serif, serif" fill="#222">120</text></g>
<g transform="translate(388,330.8) rotate(90)"><rect x="-5.25" y="-2.70" width="10.50" height="5.40" fill="#fff"/><text x="0" y="2.18" font-size="6.6" text-anchor="middle" font-family="Liberation Serif, serif" fill="#222">110</text></g>
<g transform="translate(403.9,330.6) rotate(0)"><rect x="-4.45" y="-3.40" width="8.90" height="6.80" fill="#fff"/><text x="0" y="2.74" font-size="8.3" text-anchor="middle" font-family="Liberation Serif, serif" fill="#222">80</text></g>
<g transform="translate(417.8,330) rotate(0)"><rect x="-4.45" y="-3.40" width="8.90" height="6.80" fill="#fff"/><text x="0" y="2.74" font-size="8.3" text-anchor="middle" font-family="Liberation Serif, serif" fill="#222">70</text></g>
<g transform="translate(434.2,329.5) rotate(0)"><rect x="-4.45" y="-3.40" width="8.90" height="6.80" fill="#fff"/><text x="0" y="2.74" font-size="8.3" text-anchor="middle" font-family="Liberation Serif, serif" fill="#222">60</text></g>
<g transform="translate(450.4,327.5) rotate(0)"><rect x="-4.45" y="-3.40" width="8.90" height="6.80" fill="#fff"/><text x="0" y="2.74" font-size="8.3" text-anchor="middle" font-family="Liberation Serif, serif" fill="#222">50</text></g>
<g transform="translate(463.6,325.2) rotate(0)"><rect x="-4.45" y="-3.40" width="8.90" height="6.80" fill="#fff"/><text x="0" y="2.74" font-size="8.3" text-anchor="middle" font-family="Liberation Serif, serif" fill="#222">40</text></g>
<g transform="translate(488.7,322.7) rotate(0)"><rect x="-4.45" y="-3.40" width="8.90" height="6.80" fill="#fff"/><text x="0" y="2.74" font-size="8.3" text-anchor="middle" font-family="Liberation Serif, serif" fill="#222">30</text></g>
<g transform="translate(512.6,321.8) rotate(0)"><rect x="-4.45" y="-3.40" width="8.90" height="6.80" fill="#fff"/><text x="0" y="2.74" font-size="8.3" text-anchor="middle" font-family="Liberation Serif, serif" fill="#222">20</text></g>
<g transform="translate(500.4,337.5) rotate(0)"><rect x="-4.45" y="-3.40" width="8.90" height="6.80" fill="#fff"/><text x="0" y="2.74" font-size="8.3" text-anchor="middle" font-family="Liberation Serif, serif" fill="#222">10</text></g>
<g transform="translate(473,352) rotate(0)"><rect x="-4.45" y="-3.40" width="8.90" height="6.80" fill="#fff"/><text x="0" y="2.74" font-size="8.3" text-anchor="middle" font-family="Liberation Serif, serif" fill="#222">10</text></g>
<path d="M292.4,293.8 V369.3 H518.4 M292.4,305 h4 M292.4,330.8 h4 M292.4,356.6 h4 M292.20,369.3 v-4 M324.60,369.3 v-4 M357.00,369.3 v-4 M389.40,369.3 v-4 M421.80,369.3 v-4 M454.20,369.3 v-4 M486.60,369.3 v-4" fill="none" stroke="#16161c" stroke-width="1.05"/>
<path d="M295.44,369.3 v-1.6 M298.68,369.3 v-1.6 M301.92,369.3 v-1.6 M305.16,369.3 v-1.6 M308.40,369.3 v-2.6 M311.64,369.3 v-1.6 M314.88,369.3 v-1.6 M318.12,369.3 v-1.6 M321.36,369.3 v-1.6 M327.84,369.3 v-1.6 M331.08,369.3 v-1.6 M334.32,369.3 v-1.6 M337.56,369.3 v-1.6 M340.80,369.3 v-2.6 M344.04,369.3 v-1.6 M347.28,369.3 v-1.6 M350.52,369.3 v-1.6 M353.76,369.3 v-1.6 M360.24,369.3 v-1.6 M363.48,369.3 v-1.6 M366.72,369.3 v-1.6 M369.96,369.3 v-1.6 M373.20,369.3 v-2.6 M376.44,369.3 v-1.6 M379.68,369.3 v-1.6 M382.92,369.3 v-1.6 M386.16,369.3 v-1.6 M392.64,369.3 v-1.6 M395.88,369.3 v-1.6 M399.12,369.3 v-1.6 M402.36,369.3 v-1.6 M405.60,369.3 v-2.6 M408.84,369.3 v-1.6 M412.08,369.3 v-1.6 M415.32,369.3 v-1.6 M418.56,369.3 v-1.6 M425.04,369.3 v-1.6 M428.28,369.3 v-1.6 M431.52,369.3 v-1.6 M434.76,369.3 v-1.6 M438.00,369.3 v-2.6 M441.24,369.3 v-1.6 M444.48,369.3 v-1.6 M447.72,369.3 v-1.6 M450.96,369.3 v-1.6 M457.44,369.3 v-1.6 M460.68,369.3 v-1.6 M463.92,369.3 v-1.6 M467.16,369.3 v-1.6 M470.40,369.3 v-2.6 M473.64,369.3 v-1.6 M476.88,369.3 v-1.6 M480.12,369.3 v-1.6 M483.36,369.3 v-1.6 M489.84,369.3 v-1.6 M493.08,369.3 v-1.6 M496.32,369.3 v-1.6 M499.56,369.3 v-1.6 M502.80,369.3 v-2.6 M506.04,369.3 v-1.6 M509.28,369.3 v-1.6 M512.52,369.3 v-1.6 M515.76,369.3 v-1.6 M292.2,298.5 h2 M292.2,311.4 h2 M292.2,317.9 h2 M292.2,324.3 h2 M292.2,337.3 h2 M292.2,343.7 h2 M292.2,350.2 h2 M292.2,363 h2" fill="none" stroke="#444" stroke-width="0.5"/>
<text x="288.6" y="308.9" font-size="8.9" text-anchor="end" font-family="Liberation Serif, serif" fill="#111" >0.01</text>
<text x="288.9" y="361.5" font-size="8.7" text-anchor="end" font-family="Liberation Serif, serif" fill="#111" >-0.01</text>
<text x="288.3" y="333.9" font-size="9" text-anchor="end" font-family="Liberation Serif, serif" fill="#111" >0</text>
<text transform="translate(276.2,330.4) rotate(-90)" font-size="9" text-anchor="middle" font-family="Liberation Serif, serif" fill="#111">Y</text>
<text x="293.4" y="380" font-size="9" text-anchor="middle" font-family="Liberation Serif, serif" fill="#111" >0.08</text>
<text x="325" y="380" font-size="9" text-anchor="middle" font-family="Liberation Serif, serif" fill="#111" >0.09</text>
<text x="356.8" y="380" font-size="9" text-anchor="middle" font-family="Liberation Serif, serif" fill="#111" >0.1</text>
<text x="388.3" y="380" font-size="9" text-anchor="middle" font-family="Liberation Serif, serif" fill="#111" >0.11</text>
<text x="422" y="380" font-size="9" text-anchor="middle" font-family="Liberation Serif, serif" fill="#111" >0.12</text>
<text x="455" y="380" font-size="9" text-anchor="middle" font-family="Liberation Serif, serif" fill="#111" >0.13</text>
<text x="486.4" y="380" font-size="9" text-anchor="middle" font-family="Liberation Serif, serif" fill="#111" >0.14</text>
<text x="407" y="384.4" font-size="9.6" text-anchor="middle" font-family="Liberation Serif, serif" fill="#111" >Z</text>
<text x="348.1" y="397.5" font-size="13.7" text-anchor="start" font-family="Liberation Serif, serif" fill="#111" >contraction ratio of 0.6</text>
<clipPath id="cc2"><path d="M313.5,402.4 H341.6 L351.9,413.6 H419.2 L431.5,402.4 H505.3 V457.6 H431.5 L419.2,446.4 H351.9 L341.6,457.6 H313.5 Z"/></clipPath><g clip-path="url(#cc2)">
<rect x="312" y="400" width="196" height="60" fill="#b01040"/>
<rect x="312" y="405.3" width="42" height="49.4" fill="#1060e8"/>
<rect x="312" y="405.8" width="42" height="48.4" fill="#14d0f0"/>
<rect x="312" y="406.8" width="42" height="46.4" fill="#10f0c0"/>
<path d="M344,407 C327,411 322,424 323.6,430 C322,436 327,449 344,453 L352,447 L352,413 Z" fill="#14f4ac" stroke="#0c9870" stroke-width="0.5"/>
<path d="M345,409.5 C334,414 330.5,424 331,430 C330.5,436 334,446 345,450.5 L352,447 L352,413 Z" fill="#1cf488" stroke="#0c9850" stroke-width="0.5"/>
<path d="M346.5,410.5 C338.5,415 335,424 335.2,430 C335,436 338.5,445 346.5,449.5 L352,447 L352,413 Z" fill="#30f040" stroke="#0c9830" stroke-width="0.5"/>
<path d="M348,411 C342.5,416 340,424 340,430 C340,436 342.5,444 348,449 L353,447 L353,413 Z" fill="#58f428" stroke="#30a010" stroke-width="0.4"/>
<path d="M349.5,411.5 C346,417 344.6,424 344.6,430 C344.6,436 346,443 349.5,448.5 L353,447 L353,413 Z" fill="#98f818" stroke="#50a010" stroke-width="0.4"/>
<path d="M351,412.4 C348.6,418 348,424 348,430 C348,436 348.6,442 351,447.6 L354,447 L354,413 Z" fill="#f0f010"/>
<path d="M352.8,413 C351,420 350.8,425 350.8,430 C350.8,435 351,440 352.8,447 L355,447 L355,413 Z" fill="#f8a010"/>
<rect x="352.5" y="411" width="70" height="38" fill="#f02010"/>
<rect x="352.5" y="414.6" width="70" height="30" fill="#ff6010"/>
<rect x="354" y="415.8" width="67" height="27.6" rx="3" fill="#fe3c08" filter="url(#soft)"/>
<rect x="363" y="420.6" width="54.6" height="18.4" rx="6" fill="#fa0808" filter="url(#soft)"/>
<rect x="428" y="400" width="80" height="60" fill="#c01080"/>
<rect x="426" y="403.3" width="82" height="53.4" fill="#5020c8" filter="url(#soft)"/>
<path d="M419.4,414.4 L431.8,403.50 L434.3,404.07 L436.8,404.31 L439.3,404.42 L441.8,404.46 L444.3,404.48 L446.8,404.49 L449.3,404.50 L451.8,404.50 L454.3,404.50 L456.8,404.50 L459.3,404.50 L461.8,404.50 L464.3,404.50 L466.8,404.50 L469.3,404.50 L471.8,404.50 L474.3,404.50 L476.8,404.50 L479.3,404.50 L481.8,404.50 L484.3,404.50 L486.8,404.50 L489.3,404.50 L491.8,404.50 L494.3,404.50 L496.8,404.50 L499.3,404.50 L501.8,404.50 L504.3,404.50 L506.8,404.50 L506.8,455.50 L504.3,455.50 L501.8,455.50 L499.3,455.50 L496.8,455.50 L494.3,455.50 L491.8,455.50 L489.3,455.50 L486.8,455.50 L484.3,455.50 L481.8,455.50 L479.3,455.50 L476.8,455.50 L474.3,455.50 L471.8,455.50 L469.3,455.50 L466.8,455.50 L464.3,455.50 L461.8,455.50 L459.3,455.50 L456.8,455.50 L454.3,455.50 L451.8,455.50 L449.3,455.50 L446.8,455.51 L444.3,455.52 L441.8,455.54 L439.3,455.58 L436.8,455.69 L434.3,455.93 L431.8,456.50 L419.4,445.6 Z" fill="#1030f0"/>
<path d="M419.8,415.0 L432.0,404.10 L434.5,405.59 L437.0,406.38 L439.5,406.81 L442.0,407.04 L444.5,407.16 L447.0,407.22 L449.5,407.26 L452.0,407.28 L454.5,407.29 L457.0,407.29 L459.5,407.30 L462.0,407.30 L464.5,407.30 L467.0,407.30 L469.5,407.30 L472.0,407.30 L474.5,407.30 L477.0,407.30 L479.5,407.30 L482.0,407.30 L484.5,407.30 L487.0,407.30 L489.5,407.30 L492.0,407.30 L494.5,407.30 L497.0,407.30 L499.5,407.30 L502.0,407.30 L504.5,407.30 L507.0,407.30 L507.0,452.70 L504.5,452.70 L502.0,452.70 L499.5,452.70 L497.0,452.70 L494.5,452.70 L492.0,452.70 L489.5,452.70 L487.0,452.70 L484.5,452.70 L482.0,452.70 L479.5,452.70 L477.0,452.70 L474.5,452.70 L472.0,452.70 L469.5,452.70 L467.0,452.70 L464.5,452.70 L462.0,452.70 L459.5,452.70 L457.0,452.71 L454.5,452.71 L452.0,452.72 L449.5,452.74 L447.0,452.78 L444.5,452.84 L442.0,452.96 L439.5,453.19 L437.0,453.62 L434.5,454.41 L432.0,455.90 L419.8,445.0 Z" fill="#10a0f8"/>
<path d="M420.0,415.4 L432.2,404.60 L434.7,406.53 L437.2,407.70 L439.7,408.41 L442.2,408.84 L444.7,409.10 L447.2,409.26 L449.7,409.35 L452.2,409.41 L454.7,409.45 L457.2,409.47 L459.7,409.48 L462.2,409.49 L464.7,409.49 L467.2,409.50 L469.7,409.50 L472.2,409.50 L474.7,409.50 L477.2,409.50 L479.7,409.50 L482.2,409.50 L484.7,409.50 L487.2,409.50 L489.7,409.50 L492.2,409.50 L494.7,409.50 L497.2,409.50 L499.7,409.50 L502.2,409.50 L504.7,409.50 L507.2,409.50 L507.2,450.50 L504.7,450.50 L502.2,450.50 L499.7,450.50 L497.2,450.50 L494.7,450.50 L492.2,450.50 L489.7,450.50 L487.2,450.50 L484.7,450.50 L482.2,450.50 L479.7,450.50 L477.2,450.50 L474.7,450.50 L472.2,450.50 L469.7,450.50 L467.2,450.50 L464.7,450.51 L462.2,450.51 L459.7,450.52 L457.2,450.53 L454.7,450.55 L452.2,450.59 L449.7,450.65 L447.2,450.74 L444.7,450.90 L442.2,451.16 L439.7,451.59 L437.2,452.30 L434.7,453.47 L432.2,455.40 L420.0,444.6 Z" fill="#10e8e0"/>
<path d="M420.2,415.9 L432.4,405.10 L434.9,407.31 L437.4,408.78 L439.9,409.74 L442.4,410.37 L444.9,410.79 L447.4,411.07 L449.9,411.25 L452.4,411.37 L454.9,411.45 L457.4,411.50 L459.9,411.53 L462.4,411.56 L464.9,411.57 L467.4,411.58 L469.9,411.59 L472.4,411.59 L474.9,411.59 L477.4,411.60 L479.9,411.60 L482.4,411.60 L484.9,411.60 L487.4,411.60 L489.9,411.60 L492.4,411.60 L494.9,411.60 L497.4,411.60 L499.9,411.60 L502.4,411.60 L504.9,411.60 L507.4,411.60 L507.4,448.40 L504.9,448.40 L502.4,448.40 L499.9,448.40 L497.4,448.40 L494.9,448.40 L492.4,448.40 L489.9,448.40 L487.4,448.40 L484.9,448.40 L482.4,448.40 L479.9,448.40 L477.4,448.40 L474.9,448.41 L472.4,448.41 L469.9,448.41 L467.4,448.42 L464.9,448.43 L462.4,448.44 L459.9,448.47 L457.4,448.50 L454.9,448.55 L452.4,448.63 L449.9,448.75 L447.4,448.93 L444.9,449.21 L442.4,449.63 L439.9,450.26 L437.4,451.22 L434.9,452.69 L432.4,454.90 L420.2,444.1 Z" fill="#14f090"/>
<path d="M420.5,416.3 L432.6,405.60 L435.1,407.79 L437.6,409.33 L440.1,410.40 L442.6,411.15 L445.1,411.68 L447.6,412.04 L450.1,412.30 L452.6,412.48 L455.1,412.61 L457.6,412.69 L460.1,412.76 L462.6,412.80 L465.1,412.83 L467.6,412.85 L470.1,412.87 L472.6,412.88 L475.1,412.88 L477.6,412.89 L480.1,412.89 L482.6,412.89 L485.1,412.90 L487.6,412.90 L490.1,412.90 L492.6,412.90 L495.1,412.90 L497.6,412.90 L500.1,412.90 L502.6,412.90 L505.1,412.90 L507.6,412.90 L507.6,447.10 L505.1,447.10 L502.6,447.10 L500.1,447.10 L497.6,447.10 L495.1,447.10 L492.6,447.10 L490.1,447.10 L487.6,447.10 L485.1,447.10 L482.6,447.11 L480.1,447.11 L477.6,447.11 L475.1,447.12 L472.6,447.12 L470.1,447.13 L467.6,447.15 L465.1,447.17 L462.6,447.20 L460.1,447.24 L457.6,447.31 L455.1,447.39 L452.6,447.52 L450.1,447.70 L447.6,447.96 L445.1,448.32 L442.6,448.85 L440.1,449.60 L437.6,450.67 L435.1,452.21 L432.6,454.40 L420.5,443.7 Z" fill="#24ec38" stroke="#109828" stroke-width="0.4"/>
<path d="M421.2,417.7 L433.1,407.10 L435.6,409.78 L438.1,411.86 L440.6,413.48 L443.1,414.75 L445.6,415.73 L448.1,416.50 L450.6,417.10 L453.1,417.56 L455.6,417.92 L458.1,418.21 L460.6,418.43 L463.1,418.60 L465.6,418.73 L468.1,418.83 L470.6,418.92 L473.1,418.98 L475.6,419.03 L478.1,419.07 L480.6,419.10 L483.1,419.12 L485.6,419.14 L488.1,419.15 L490.6,419.16 L493.1,419.17 L495.6,419.18 L498.1,419.18 L500.6,419.19 L503.1,419.19 L505.6,419.19 L505.6,440.81 L503.1,440.81 L500.6,440.81 L498.1,440.82 L495.6,440.82 L493.1,440.83 L490.6,440.84 L488.1,440.85 L485.6,440.86 L483.1,440.88 L480.6,440.90 L478.1,440.93 L475.6,440.97 L473.1,441.02 L470.6,441.08 L468.1,441.17 L465.6,441.27 L463.1,441.40 L460.6,441.57 L458.1,441.79 L455.6,442.08 L453.1,442.44 L450.6,442.90 L448.1,443.50 L445.6,444.27 L443.1,445.25 L440.6,446.52 L438.1,448.14 L435.6,450.22 L433.1,452.90 L421.2,442.3 Z" fill="#90f808" stroke="#50a010" stroke-width="0.4"/>
<path d="M422.2,419.5 L433.8,409.10 L436.3,411.60 L438.8,413.70 L441.3,415.45 L443.8,416.91 L446.3,418.13 L448.8,419.16 L451.3,420.02 L453.8,420.73 L456.3,421.33 L458.8,421.83 L461.3,422.25 L463.8,422.61 L466.3,422.90 L468.8,423.14 L471.3,423.35 L473.8,423.52 L476.3,423.66 L478.8,423.79 L481.3,423.89 L483.8,423.97 L486.3,424.04 L488.8,424.10 L491.3,424.15 L493.8,424.19 L496.3,424.22 L498.8,424.25 L501.3,424.28 L503.8,424.30 L506.3,424.31 L506.3,435.69 L503.8,435.70 L501.3,435.72 L498.8,435.75 L496.3,435.78 L493.8,435.81 L491.3,435.85 L488.8,435.90 L486.3,435.96 L483.8,436.03 L481.3,436.11 L478.8,436.21 L476.3,436.34 L473.8,436.48 L471.3,436.65 L468.8,436.86 L466.3,437.10 L463.8,437.39 L461.3,437.75 L458.8,438.17 L456.3,438.67 L453.8,439.27 L451.3,439.98 L448.8,440.84 L446.3,441.87 L443.8,443.09 L441.3,444.55 L438.8,446.30 L436.3,448.40 L433.8,450.90 L422.2,440.5 Z" fill="#ccfc08" stroke="#80a010" stroke-width="0.4"/>
<path d="M419,414.6 C432,418.5 456,425 477,430 C456,435 432,441.5 419,445.4 Z" fill="#fcf808" stroke="#b0a010" stroke-width="0.4"/>
<path d="M419,415 C428,421 434,426 440,430 C434,434 428,439 419,445 Z" fill="#fcb408"/>
<path d="M419,417 C423,421 427,426 430,430 C427,434 423,439 419,443 Z" fill="#fc6c08"/>
<path d="M320.4,427 H339.6" stroke="#a01010" stroke-width="0.8"/>
</g>
<g transform="translate(324.7,420.4) rotate(0)"><rect x="-4.50" y="-3.40" width="9.00" height="6.80" fill="#fff"/><text x="0" y="2.57" font-size="7.8" text-anchor="middle" font-family="Liberation Serif, serif" fill="#222">60</text></g>
<g transform="translate(334.5,436.2) rotate(0)"><rect x="-4.50" y="-3.40" width="9.00" height="6.80" fill="#fff"/><text x="0" y="2.57" font-size="7.8" text-anchor="middle" font-family="Liberation Serif, serif" fill="#222">70</text></g>
<g transform="translate(344.2,431.8) rotate(90)"><rect x="-6.00" y="-3.20" width="12.00" height="6.40" fill="#fff"/><text x="0" y="2.57" font-size="7.8" text-anchor="middle" font-family="Liberation Serif, serif" fill="#222">100</text></g>
<g transform="translate(355,430.4) rotate(90)"><rect x="-6.10" y="-3.30" width="12.20" height="6.60" fill="#fff"/><text x="0" y="2.57" font-size="7.8" text-anchor="middle" font-family="Liberation Serif, serif" fill="#222">140</text></g>
<g transform="translate(375.8,420.4) rotate(0)"><rect x="-6.30" y="-3.40" width="12.60" height="6.80" fill="#fff"/><text x="0" y="2.57" font-size="7.8" text-anchor="middle" font-family="Liberation Serif, serif" fill="#222">160</text></g>
<g transform="translate(438.8,406.5) rotate(0)"><rect x="-3.80" y="-2.80" width="7.60" height="5.60" fill="#fff"/><text x="0" y="2.18" font-size="6.6" text-anchor="middle" font-family="Liberation Serif, serif" fill="#222">10</text></g>
<g transform="translate(473.5,409.3) rotate(0)"><rect x="-4.20" y="-3.00" width="8.40" height="6.00" fill="#fff"/><text x="0" y="2.38" font-size="7.2" text-anchor="middle" font-family="Liberation Serif, serif" fill="#222">30</text></g>
<g transform="translate(425.7,428) rotate(0)"><rect x="-5.70" y="-3.10" width="11.40" height="6.20" fill="#fff"/><text x="0" y="2.51" font-size="7.6" text-anchor="middle" font-family="Liberation Serif, serif" fill="#222">150</text></g>
<g transform="translate(444.2,429.6) rotate(0)"><rect x="-6.00" y="-3.10" width="12.00" height="6.20" fill="#fff"/><text x="0" y="2.51" font-size="7.6" text-anchor="middle" font-family="Liberation Serif, serif" fill="#222">130</text></g>
<g transform="translate(473,428) rotate(0)"><rect x="-6.00" y="-3.10" width="12.00" height="6.20" fill="#fff"/><text x="0" y="2.51" font-size="7.6" text-anchor="middle" font-family="Liberation Serif, serif" fill="#222">120</text></g>
<g transform="translate(495.4,437.2) rotate(0)"><rect x="-6.00" y="-3.10" width="12.00" height="6.20" fill="#fff"/><text x="0" y="2.51" font-size="7.6" text-anchor="middle" font-family="Liberation Serif, serif" fill="#222">110</text></g>
<g transform="translate(437.2,444.2) rotate(0)"><rect x="-4.30" y="-3.10" width="8.60" height="6.20" fill="#fff"/><text x="0" y="2.51" font-size="7.6" text-anchor="middle" font-family="Liberation Serif, serif" fill="#222">90</text></g>
<g transform="translate(467.7,451.1) rotate(0)"><rect x="-4.10" y="-2.90" width="8.20" height="5.80" fill="#fff"/><text x="0" y="2.38" font-size="7.2" text-anchor="middle" font-family="Liberation Serif, serif" fill="#222">40</text></g>
<path d="M313.3,396.3 V478.4 H506.2 M313.3,402.4 h3.6 M313.3,430 h3.6 M313.3,457.6 h3.6 M325.4,478.4 v-3.8 M353.1,478.4 v-3.8 M380.8,478.4 v-3.8 M408.3,478.4 v-3.8 M435.9,478.4 v-3.8 M463.5,478.4 v-3.8 M490.8,478.4 v-3.8" fill="none" stroke="#16161c" stroke-width="1.05"/>
<path d="M314.32,478.4 v-1.5 M317.09,478.4 v-1.5 M319.86,478.4 v-1.5 M322.63,478.4 v-1.5 M328.17,478.4 v-1.5 M330.94,478.4 v-1.5 M333.71,478.4 v-1.5 M336.48,478.4 v-1.5 M339.25,478.4 v-2.4 M342.02,478.4 v-1.5 M344.79,478.4 v-1.5 M347.56,478.4 v-1.5 M350.33,478.4 v-1.5 M355.87,478.4 v-1.5 M358.64,478.4 v-1.5 M361.41,478.4 v-1.5 M364.18,478.4 v-1.5 M366.95,478.4 v-2.4 M369.72,478.4 v-1.5 M372.49,478.4 v-1.5 M375.26,478.4 v-1.5 M378.03,478.4 v-1.5 M383.57,478.4 v-1.5 M386.34,478.4 v-1.5 M389.11,478.4 v-1.5 M391.88,478.4 v-1.5 M394.65,478.4 v-2.4 M397.42,478.4 v-1.5 M400.19,478.4 v-1.5 M402.96,478.4 v-1.5 M405.73,478.4 v-1.5 M411.27,478.4 v-1.5 M414.04,478.4 v-1.5 M416.81,478.4 v-1.5 M419.58,478.4 v-1.5 M422.35,478.4 v-2.4 M425.12,478.4 v-1.5 M427.89,478.4 v-1.5 M430.66,478.4 v-1.5 M433.43,478.4 v-1.5 M438.97,478.4 v-1.5 M441.74,478.4 v-1.5 M444.51,478.4 v-1.5 M447.28,478.4 v-1.5 M450.05,478.4 v-2.4 M452.82,478.4 v-1.5 M455.59,478.4 v-1.5 M458.36,478.4 v-1.5 M461.13,478.4 v-1.5 M466.67,478.4 v-1.5 M469.44,478.4 v-1.5 M472.21,478.4 v-1.5 M474.98,478.4 v-1.5 M477.75,478.4 v-2.4 M480.52,478.4 v-1.5 M483.29,478.4 v-1.5 M486.06,478.4 v-1.5 M488.83,478.4 v-1.5 M494.37,478.4 v-1.5 M497.14,478.4 v-1.5 M499.91,478.4 v-1.5 M502.68,478.4 v-1.5 M313.3,416.2 h2.2 M313.3,443.8 h2.2 M313.3,471.4 h2.2 M313.3,409.3 h1.4 M313.3,423.1 h1.4 M313.3,436.9 h1.4 M313.3,450.7 h1.4 M313.3,464.5 h1.4" fill="none" stroke="#444" stroke-width="0.5"/>
<text x="310.6" y="409.2" font-size="8.6" text-anchor="end" font-family="Liberation Serif, serif" fill="#111" >0.01</text>
<text x="310.6" y="462" font-size="8.6" text-anchor="end" font-family="Liberation Serif, serif" fill="#111" >-0.01</text>
<text x="309.8" y="434" font-size="8.6" text-anchor="end" font-family="Liberation Serif, serif" fill="#111" >0</text>
<text transform="translate(298,431.2) rotate(-90)" font-size="8.6" text-anchor="middle" font-family="Liberation Serif, serif" fill="#111">Y</text>
<text x="325.4" y="487.2" font-size="8.2" text-anchor="middle" font-family="Liberation Serif, serif" fill="#111" >0.09</text>
<text x="353.4" y="487.2" font-size="8.2" text-anchor="middle" font-family="Liberation Serif, serif" fill="#111" >0.1</text>
<text x="377.4" y="487.2" font-size="8.2" text-anchor="middle" font-family="Liberation Serif, serif" fill="#111" >0.11</text>
<text x="406.5" y="487.2" font-size="8.2" text-anchor="middle" font-family="Liberation Serif, serif" fill="#111" >0.12</text>
<text x="433" y="487.2" font-size="8.2" text-anchor="middle" font-family="Liberation Serif, serif" fill="#111" >0.13</text>
<text x="461.2" y="487.2" font-size="8.2" text-anchor="middle" font-family="Liberation Serif, serif" fill="#111" >0.14</text>
<text x="486.5" y="487.2" font-size="8.2" text-anchor="middle" font-family="Liberation Serif, serif" fill="#111" >0.15</text>
<text x="420.3" y="493.6" font-size="9.4" text-anchor="middle" font-family="Liberation Serif, serif" fill="#111" >Z</text>
<text y="525.1" font-size="11" font-family="Liberation Serif, Noto Sans CJK SC, serif" fill="#111"><tspan x="151">（</tspan><tspan x="177.6">）</tspan><tspan x="313">（</tspan><tspan x="351.6">）</tspan></text>
<text x="167.8" y="525.1" font-size="15.2" font-family="Liberation Serif, Noto Sans CJK SC, serif" fill="#111">c</text>
<text x="190.6" y="525.1" font-size="15.2" font-family="Liberation Serif, Noto Sans CJK SC, serif" fill="#111" textLength="121.2" lengthAdjust="spacingAndGlyphs">Velocity disribution</text>
<text x="328.8" y="525.1" font-size="15.2" font-family="Liberation Serif, Noto Sans CJK SC, serif" fill="#111">m/s</text>
</g>
</svg>
</body></html>
